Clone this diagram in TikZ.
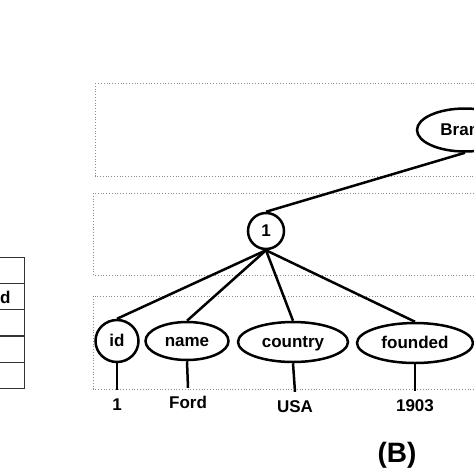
\documentclass[tikz,border=0pt]{standalone}
\usepackage{fontspec}
\setmainfont{Liberation Sans}
\usetikzlibrary{shapes.geometric}

\tikzset{
	level/.style={draw=gray!90, dotted, line width=0.8pt},
	attr/.style={ellipse, draw, line width=2.5pt, inner sep=0pt, font=\bfseries\fontsize{17}{19}\selectfont, text height=12pt, text depth=2pt},
	val/.style={anchor=base, inner ysep=8pt, font=\bfseries\fontsize{17}{19}\selectfont, text height=12pt, text depth=0pt},
	link/.style={line width=2.5pt},
	cell/.style={draw=black!80, line width=1pt}
}

\begin{document}
	\begin{tikzpicture}[x=1pt, y=-1pt]
		\useasboundingbox (0,0) rectangle (474,474);
		
		\foreach \r in {257,283,309,336,362}
			\draw[cell] (-10,\r) rectangle (24,\r+26);
		\node[font=\bfseries\fontsize{17}{19}\selectfont, anchor=east] (tabtext) at (14,297) {d};
		
		\draw[level] (95,83) rectangle (480,176);
		\draw[level] (93,193) rectangle (480,275);
		\draw[level] (93,296) rectangle (480,389);
		
		\node[attr, minimum width=96pt, minimum height=43pt] (brand) at (465,130) {Brand};
		\node[attr, circle, minimum size=36pt] (one) at (266,231) {1};
		
		\node[attr, minimum width=43pt, minimum height=42pt] (id) at (117,341) {id};
		\node[attr, minimum width=83pt, minimum height=38pt] (name) at (187,341) {name};
		\node[attr, minimum width=110pt, minimum height=40pt] (country) at (293,342) {country};
		\node[attr, minimum width=116pt, minimum height=40pt] (founded) at (415,343) {founded};
		
		\node[val] (idval) at (117,410) {1};
		\node[val] (nameval) at (188,408) {Ford};
		\node[val] (countryval) at (295,412) {USA};
		\node[val] (foundedval) at (415,411) {1903};
		
		\node[font=\bfseries\fontsize{28}{32}\selectfont] (label) at (397,455) {(B)};
		
		\draw[link] (one.north) -- (brand.south);
		\draw[link] (one.south) -- (id.north);
		\draw[link] (one.south) -- (name.north);
		\draw[link] (one.south) -- (country.north);
		\draw[link] (one.south) -- (founded.north);
		\draw[link] (id.south) -- (idval.north);
		\draw[link] (name.south) -- (nameval.north);
		\draw[link] (country.south) -- (countryval.north);
		\draw[link] (founded.south) -- (foundedval.north);
	\end{tikzpicture}
\end{document}
